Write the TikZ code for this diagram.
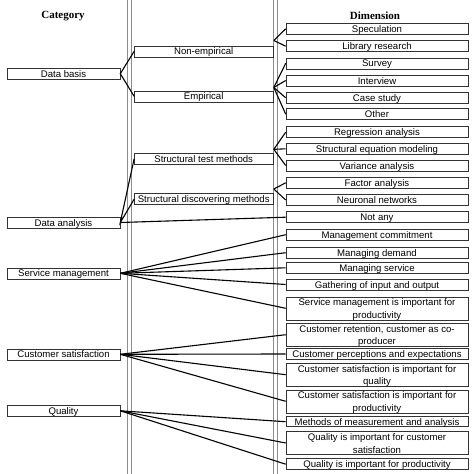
\documentclass[tikz,border=0pt]{standalone}
\usepackage{fontspec}
\setmainfont{Liberation Sans}
\newfontfamily\headfont{Liberation Serif}
\tikzset{
  box/.style={draw=black!80, line width=0.6pt, fill=white, inner sep=0pt,
    minimum height=11pt, text height=8.1pt, text depth=0.8pt,
    font=\fontsize{9.6}{12.6}\selectfont},
  lbox/.style={box, minimum width=113pt},
  mbox/.style={box, minimum width=138.5pt},
  rbox/.style={box, minimum width=182pt},
  tall/.style={minimum height=23pt, align=center, text height=20.6pt, text depth=0.6pt},
  conn/.style={line width=1.1pt, black},
  vline/.style={black!45, line width=0.7pt},
  head/.style={font=\headfont\bfseries\fontsize{11}{13}\selectfont}
}
\begin{document}
\begin{tikzpicture}[x=1pt,y=-1pt]
\useasboundingbox (0,0) rectangle (474,474);
% column separators
\draw[vline] (127.5,0) -- (127.5,474);
\draw[vline] (131,0) -- (131,474);
\draw[vline] (273.8,0) -- (273.8,474);
\draw[vline] (277.3,0) -- (277.3,474);
% headers
\node[head] (hcat) at (63,16) {Category};
\node[head] (hdim) at (375,16) {Dimension};
% left boxes
\node[lbox] (db) at (63.5,73.7) {Data basis};
\node[lbox] (da) at (63.5,222.5) {Data analysis};
\node[lbox] (sm) at (63.5,273.3) {Service management};
\node[lbox] (cs) at (63.5,354.3) {Customer satisfaction};
\node[lbox] (q)  at (63.5,410.8) {Quality};
% middle boxes
\node[mbox] (ne)  at (203.7,51.3) {Non-empirical};
\node[mbox] (em)  at (203.7,96.3) {Empirical};
\node[mbox] (stm) at (203.7,158.8) {Structural test methods};
\node[mbox] (sdm) at (203.7,199.2) {Structural discovering methods};
% right boxes
\node[rbox] (spec) at (377,28.8) {Speculation};
\node[rbox] (lib)  at (377,46.2) {Library research};
\node[rbox] (sur)  at (377,63.3) {Survey};
\node[rbox] (int)  at (377,80.5) {Interview};
\node[rbox] (cas)  at (377,97.8) {Case study};
\node[rbox] (oth)  at (377,114.2) {Other};
\node[rbox] (reg)  at (377,132.2) {Regression analysis};
\node[rbox] (sem)  at (377,148.8) {Structural equation modeling};
\node[rbox] (var)  at (377,165.5) {Variance analysis};
\node[rbox] (fac)  at (377,182.8) {Factor analysis};
\node[rbox] (neu)  at (377,200) {Neuronal networks};
\node[rbox] (non)  at (377,217.2) {Not any};
\node[rbox] (mc)   at (377,234.7) {Management commitment};
\node[rbox] (md)   at (377,252.7) {Managing demand};
\node[rbox] (ms)   at (377,267.8) {Managing service};
\node[rbox] (gio)  at (377,284.5) {Gathering of input and output};
\node[rbox,tall] (smi) at (377,308.3) {Service management is important for\\productivity};
\node[rbox,tall] (cre) at (377,334.7) {Customer retention, customer as co-\\producer};
\node[rbox] (cpe)  at (377,354) {Customer perceptions and expectations};
\node[rbox,tall] (csq) at (377,374.7) {Customer satisfaction is important for\\quality};
\node[rbox,tall] (csp) at (377,401.3) {Customer satisfaction is important for\\productivity};
\node[rbox,minimum height=10pt,text height=7.8pt,text depth=1.2pt] (mma) at (377,421.7) {Methods of measurement and analysis};
\node[rbox,tall] (qic) at (377,443) {Quality is important for customer\\satisfaction};
\node[rbox] (qip)  at (377,464.2) {Quality is important for productivity};
% fan apices of middle column
\coordinate (ane)  at (273.8,40.5);
\coordinate (aem)  at (273.8,87.5);
\coordinate (astm) at (273.8,149.3);
\coordinate (asdm) at (273.8,189);
% connectors left -> middle/right
\draw[conn] (ne.west) -- (db.east) -- (em.west);
\draw[conn] (stm.west) -- (da.east) -- (sdm.west);
\draw[conn] (da.east) -- (non.west);
\foreach \t in {mc,md,ms,gio,smi} \draw[conn] (sm.east) -- (\t.west);
\foreach \t in {cre,cpe,csq,csp} \draw[conn] (cs.east) -- (\t.west);
\foreach \t in {mma,qic,qip} \draw[conn] (q.east) -- (\t.west);
% connectors middle -> right
\foreach \t in {spec,lib} \draw[conn] (ane) -- (\t.west);
\foreach \t in {sur,int,cas,oth} \draw[conn] (aem) -- (\t.west);
\foreach \t in {reg,sem,var} \draw[conn] (astm) -- (\t.west);
\foreach \t in {fac,neu} \draw[conn] (asdm) -- (\t.west);
\end{tikzpicture}
\end{document}
